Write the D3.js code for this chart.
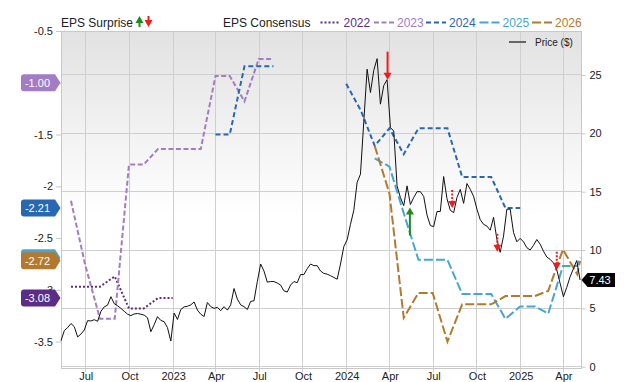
<!DOCTYPE html>
<html><head><meta charset="utf-8">
<script src="https://cdn.jsdelivr.net/npm/d3@7"></script>
<style>
html,body{margin:0;padding:0;background:#fff;}
svg{display:block;font-family:"Liberation Sans",Arial,Helvetica,sans-serif;}
</style></head><body>
<svg id="c" width="640" height="382"></svg>
<script>
// ---------- DATA ----------
const priceStart = "2022-05-10"; // weekly closes from this date
const priceWeekly = [
 2.23,3.1,3.35,3.7,3.43,2.55,2.8,3.15,3.95,3.92,4.03,3.89,4.75,5.13,5.28,6.0,5.4,5.22,5.0,4.75,
 4.5,4.38,4.52,4.56,4.5,4.42,4.2,3.0,3.6,4.29,3.97,3.86,3.35,2.2,4.6,4.05,4.9,5.13,5.18,5.3,
 5.55,4.85,4.5,4.3,5.5,5.15,5.0,5.09,4.8,5.15,4.85,5.3,6.7,5.8,5.3,5.15,4.9,5.6,5.65,7.3,
 8.8,8.2,7.25,7.3,7.3,7.17,7.0,6.5,6.4,7.0,7.3,7.2,7.9,7.9,8.4,8.8,8.66,8.66,8.2,8.0,
 7.93,7.8,7.65,7.5,8.8,10.3,10.87,12.2,13.4,15.8,16.5,21.0,25.5,23.5,25.4,26.4,22.5,24.1,24.6,20.5,
 20.2,15.5,14.5,13.8,15.5,13.9,14.5,15.0,15.0,14.6,13.0,12.1,12.0,13.3,13.3,16.3,14.4,13.4,13.2,14.5,
 15.2,14.0,15.7,15.2,14.6,13.5,12.6,12.2,12.05,11.7,12.8,10.9,9.8,11.2,13.5,13.5,11.5,10.7,11.0,10.7,
 10.2,10.0,10.4,10.9,10.5,9.9,9.4,9.2,8.9,8.3,7.15,6.0,6.8,7.7,8.4,9.1,7.43
];

const eps2022Dates = ["2022-05-31","2022-06-30","2022-07-31","2022-08-31","2022-09-30","2022-10-31","2022-11-30","2022-12-31"];
const eps2022 = [-2.97,-2.97,-2.97,-2.87,-3.18,-3.18,-3.08,-3.08];

const eps2023Dates = ["2022-05-31","2022-06-30","2022-07-31","2022-08-31","2022-09-30","2022-10-31","2022-11-30","2022-12-31",
  "2023-01-31","2023-02-28","2023-03-31","2023-04-30","2023-05-31","2023-06-30","2023-07-31"];
const eps2023 = [-2.14,-2.76,-3.28,-3.28,-1.79,-1.79,-1.64,-1.64,-1.64,-1.64,-0.935,-0.935,-1.18,-0.77,-0.77];

const eps2024Dates = ["2023-03-31","2023-04-30","2023-05-31","2023-06-30","2023-07-31","2023-08-31","2023-09-30","2023-10-31","2023-11-30",
  "2023-12-31","2024-01-31","2024-02-29","2024-03-31","2024-04-30","2024-05-31","2024-06-30","2024-07-31","2024-08-31","2024-09-30",
  "2024-10-31","2024-11-30","2024-12-31"];
const eps2024 = [-1.50,-1.50,-0.84,-0.84,-0.84,null,null,null,null,
  -1.01,-1.27,-1.61,-1.44,-1.69,-1.44,-1.44,-1.44,-1.91,-1.91,-1.91,-2.21,-2.21];

const eps2025Dates = ["2024-02-29","2024-03-31","2024-04-30","2024-05-31","2024-06-30","2024-07-31","2024-08-31","2024-09-30",
  "2024-10-31","2024-11-30","2024-12-31","2025-01-31","2025-02-28","2025-03-31","2025-04-30","2025-05-06"];
const eps2025 = [-1.73,-1.81,-2.26,-2.71,-2.71,-2.71,-3.04,-3.04,-3.04,-3.28,-3.16,-3.16,-3.23,-2.77,-2.77,-2.69];

const eps2026Dates = eps2025Dates;
const eps2026 = [-1.61,-2.07,-3.27,-3.03,-3.03,-3.50,-3.14,-3.14,-3.14,-3.06,-3.06,-3.06,-3.01,-2.61,-2.85,-2.72];

const seriesNames = ["2022","2023","2024","2025","2026"];
const seriesColors = ["#5c2d86","#a27cc4","#2867b2","#45a6d6","#b37a2f"];
const seriesDash = ["2,2","5,2.5","5,3","9,3","9,3"];
// latest consensus badges (2025's badge sits under 2026's, its label is hidden)
const badgeLabels = ["-3.08","-1.00","-2.21","","-2.72"];
const badgeValues = [-3.08,-1.00,-2.21,-2.69,-2.72];

const surpriseDates = ["2024-03-27","2024-05-13","2024-08-10","2024-11-13","2025-03-18"];
const surpriseDir = ["down","up","down","down","down"];
const surpriseSolid = [true,true,false,false,false];
const surprisePrice = [24.6,13.9,13.6,9.85,8.3];

const xTickDates = ["2022-07-01","2022-10-01","2023-01-01","2023-04-01","2023-07-01","2023-10-01","2024-01-01","2024-04-01","2024-07-01","2024-10-01","2025-01-01","2025-04-01"];
const xTickLabels = ["Jul","Oct","2023","Apr","Jul","Oct","2024","Apr","Jul","Oct","2025","Apr"];
const leftTicks = [-3.5,-3,-2.5,-2,-1.5,-1,-0.5];
const leftTickLabels = ["-3.5","-3","-2.5","-2","-1.5","","-0.5"]; // "-1" sits under the -1.00 badge
const rightTicks = [0,5,10,15,20,25];
const lastPrice = 7.43;

// ---------- LAYOUT ----------
const L = 61, R = 581.5, T = 31, B = 368;
const parse = d3.utcParse("%Y-%m-%d");
const svg = d3.select("#c");

const x = d3.scaleUtc().domain([parse("2022-05-10"), parse("2025-05-09")]).range([L, R]);
const yL = d3.scaleLinear().domain([-3.755, -0.5]).range([B, T]);
const yR = d3.scaleLinear().domain([-0.11, 28.77]).range([B, T]);

// background gradient
const defs = svg.append("defs");
const grad = defs.append("linearGradient").attr("id","bg").attr("x1",0).attr("y1",0).attr("x2",0).attr("y2",1);
grad.append("stop").attr("offset","0%").attr("stop-color","#e2e2e2");
grad.append("stop").attr("offset","55%").attr("stop-color","#ffffff");
svg.append("rect").attr("x",L).attr("y",T).attr("width",R-L).attr("height",B-T).attr("fill","url(#bg)");

// gridlines
const gridC = "#cfcfcf";
svg.append("g").selectAll("line").data(xTickDates).join("line")
  .attr("x1",d=>x(parse(d))).attr("x2",d=>x(parse(d))).attr("y1",T).attr("y2",B+4)
  .attr("stroke",gridC).attr("stroke-width",1).attr("shape-rendering","crispEdges");
svg.append("g").selectAll("line").data(rightTicks).join("line")
  .attr("x1",L).attr("x2",R).attr("y1",d=>yR(d)).attr("y2",d=>yR(d))
  .attr("stroke",gridC).attr("stroke-width",1).attr("shape-rendering","crispEdges");
svg.append("rect").attr("x",L).attr("y",T).attr("width",R-L).attr("height",B-T)
  .attr("fill","none").attr("stroke","#c8c8c8").attr("shape-rendering","crispEdges");

// axes
const axL = svg.append("g").attr("transform",`translate(${L},0)`)
  .call(d3.axisLeft(yL).tickValues(leftTicks).tickFormat((d,i)=>leftTickLabels[i]).tickSize(5).tickPadding(3));
const axR = svg.append("g").attr("transform",`translate(${R},0)`)
  .call(d3.axisRight(yR).tickValues(rightTicks).tickFormat(d=>String(d)).tickSize(4).tickPadding(4));
const axB = svg.append("g").attr("transform",`translate(0,${B})`)
  .call(d3.axisBottom(x).tickValues(xTickDates.map(parse)).tickFormat((d,i)=>xTickLabels[i]).tickSize(0).tickPadding(4));
[axL,axR,axB].forEach(a=>{
  a.select(".domain").remove();
  a.selectAll(".tick line").attr("stroke","#c8c8c8");
  a.selectAll("text").attr("fill","#222").style("font-size","11px").style("font-family","'Liberation Sans',Arial,sans-serif");
});

// consensus lines
const epsSets = [
  [eps2022Dates, eps2022],[eps2023Dates, eps2023],[eps2024Dates, eps2024],[eps2025Dates, eps2025],[eps2026Dates, eps2026]
];
const epsLine = d3.line().defined(d=>d.v!=null).x(d=>x(d.date)).y(d=>yL(d.v));
epsSets.forEach(([ds,vs],k)=>{
  const data = ds.map((d,i)=>({date:parse(d), v:vs[i]}));
  svg.append("path").datum(data).attr("d",epsLine).attr("fill","none")
    .attr("stroke",seriesColors[k]).attr("stroke-width",2).attr("stroke-dasharray",seriesDash[k]);
});

// price line
const p0 = parse(priceStart);
const priceData = priceWeekly.map((v,i)=>({date:d3.utcDay.offset(p0, i*7), v}));
svg.append("path").datum(priceData)
  .attr("d", d3.line().x(d=>x(d.date)).y(d=>yR(d.v)))
  .attr("fill","none").attr("stroke","#111").attr("stroke-width",1);

// arrows
function arrow(g, cx, tipY, dir, len, color, solid){
  const s = dir==="down" ? -1 : 1;
  g.append("line").attr("x1",cx).attr("x2",cx).attr("y1",tipY + s*len).attr("y2",tipY + s*6)
    .attr("stroke",color).attr("stroke-width",2).attr("stroke-dasharray", solid?null:"2,1.5");
  g.append("path").attr("d",`M${cx-4},${tipY+s*7} L${cx+4},${tipY+s*7} L${cx},${tipY} Z`).attr("fill",color);
}
const arrowsG = svg.append("g");
surpriseDates.forEach((d,i)=>{
  const cx = x(parse(d));
  const py = yR(surprisePrice[i]);
  const color = surpriseDir[i]==="down" ? "#ee1c1c" : "#1f8a1f";
  const len = surpriseSolid[i] ? 28 : 18;
  const tip = surpriseDir[i]==="down" ? py : py + 3;
  arrow(arrowsG, cx, tip, surpriseDir[i], len, color, surpriseSolid[i]);
});

// left badges
const badgeG = svg.append("g");
badgeValues.forEach((bv,k)=>{
  const cy = yL(bv);
  const top = cy-8.5, bot = cy+8.5;
  badgeG.append("path")
    .attr("d",`M24,${top} H55 L60.5,${cy} L55,${bot} H24 Q21,${bot} 21,${bot-3} V${top+3} Q21,${top} 24,${top} Z`)
    .attr("fill",seriesColors[k]);
  if (badgeLabels[k]) {
    badgeG.append("text").attr("x",37.5).attr("y",cy+4).attr("text-anchor","middle")
      .attr("fill","#fff").style("font-size","11px").text(badgeLabels[k]);
  }
});

// right price badge
{
  const cy = yR(lastPrice);
  svg.append("path").attr("d",`M${R},${cy} L${R+6},${cy-7} H615 V${cy+7} H${R+6} Z`).attr("fill","#000");
  svg.append("text").attr("x",600).attr("y",cy+4).attr("text-anchor","middle").attr("fill","#fff")
    .style("font-size","11px").text(String(lastPrice));
}

// legend
const lg = svg.append("g").style("font-size","12px");
lg.append("text").attr("x",61).attr("y",27).attr("fill","#222").text("EPS Surprise");
arrow(lg, 139.5, 16, "up", 11, "#1f8a1f", true);
arrow(lg, 148.5, 27, "down", 11, "#ee1c1c", true);
lg.append("text").attr("x",223).attr("y",27).attr("fill","#222").text("EPS Consensus");
const sampleX = [320.5,374,426,479.5,532];
seriesNames.forEach((n,k)=>{
  lg.append("line").attr("x1",sampleX[k]).attr("x2",sampleX[k]+20).attr("y1",22.5).attr("y2",22.5)
    .attr("stroke",seriesColors[k]).attr("stroke-width",2).attr("stroke-dasharray",seriesDash[k]);
  lg.append("text").attr("x",sampleX[k]+23).attr("y",27).attr("fill",seriesColors[k]).text(n);
});
lg.append("line").attr("x1",509).attr("x2",526).attr("y1",42).attr("y2",42).attr("stroke","#666").attr("stroke-width",2);
lg.append("text").attr("x",535).attr("y",46).attr("fill","#222").style("font-size","10px").text("Price ($)");
</script>
</body></html>
